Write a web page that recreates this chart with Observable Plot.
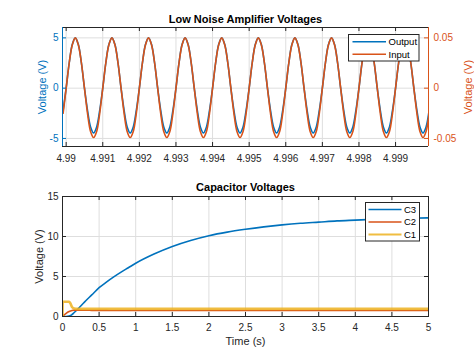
<!DOCTYPE html>
<html><head><meta charset="utf-8">
<script src="https://cdn.jsdelivr.net/npm/d3@7"></script>
<script src="https://cdn.jsdelivr.net/npm/@observablehq/plot@0.6"></script>
<style>
html,body{margin:0;padding:0;background:#fff;}
#chart{width:474px;height:355px;position:relative;overflow:hidden;background:#fff;}
#chart svg{display:block;}
</style></head><body><div id="chart"></div>
<script>
// ---------- Data: Low Noise Amplifier (samples every 1/12 ms) ----------
const lnaStart = 4.98991667;
const lnaStep = 1 / 12000;
const lnaOutput = [
  -2.2, 0, 2.5, 4.33, 5, 4.33, 2.5, 0, -2.2, -3.85, -4.45, -3.85,
  -2.2, 0, 2.5, 4.33, 5, 4.33, 2.5, 0, -2.2, -3.85, -4.45, -3.85,
  -2.2, 0, 2.5, 4.33, 5, 4.33, 2.5, 0, -2.2, -3.85, -4.45, -3.85,
  -2.2, 0, 2.5, 4.33, 5, 4.33, 2.5, 0, -2.2, -3.85, -4.45, -3.85,
  -2.2, 0, 2.5, 4.33, 5, 4.33, 2.5, 0, -2.2, -3.85, -4.45, -3.85,
  -2.2, 0, 2.5, 4.33, 5, 4.33, 2.5, 0, -2.2, -3.85, -4.45, -3.85,
  -2.2, 0, 2.5, 4.33, 5, 4.33, 2.5, 0, -2.2, -3.85, -4.45, -3.85,
  -2.2, 0, 2.5, 4.33, 5, 4.33, 2.5, 0, -2.2, -3.85, -4.45, -3.85,
  -2.2, 0, 2.5, 4.33, 5, 4.33, 2.5, 0, -2.2, -3.85, -4.45, -3.85,
  -2.2, 0, 2.5, 4.33, 5, 4.33, 2.5, 0, -2.2, -3.85, -4.45, -3.85,
  -2.2
];
const lnaInput = [
  -0.025, 0, 0.025, 0.043, 0.05, 0.043, 0.025, 0, -0.025, -0.043, -0.049, -0.043,
  -0.025, 0, 0.025, 0.043, 0.05, 0.043, 0.025, 0, -0.025, -0.043, -0.049, -0.043,
  -0.025, 0, 0.025, 0.043, 0.05, 0.043, 0.025, 0, -0.025, -0.043, -0.049, -0.043,
  -0.025, 0, 0.025, 0.043, 0.05, 0.043, 0.025, 0, -0.025, -0.043, -0.049, -0.043,
  -0.025, 0, 0.025, 0.043, 0.05, 0.043, 0.025, 0, -0.025, -0.043, -0.049, -0.043,
  -0.025, 0, 0.025, 0.043, 0.05, 0.043, 0.025, 0, -0.025, -0.043, -0.049, -0.043,
  -0.025, 0, 0.025, 0.043, 0.05, 0.043, 0.025, 0, -0.025, -0.043, -0.049, -0.043,
  -0.025, 0, 0.025, 0.043, 0.05, 0.043, 0.025, 0, -0.025, -0.043, -0.049, -0.043,
  -0.025, 0, 0.025, 0.043, 0.05, 0.043, 0.025, 0, -0.025, -0.043, -0.049, -0.043,
  -0.025, 0, 0.025, 0.043, 0.05, 0.043, 0.025, 0, -0.025, -0.043, -0.049, -0.043,
  -0.025
];
const lnaXDomain = [4.9899, 4.9999];
const lnaYDomain = [-5.8, 6.03];
const lnaXTicks = [4.99, 4.991, 4.992, 4.993, 4.994, 4.995, 4.996, 4.997, 4.998, 4.999];
const lnaXTickLabels = ["4.99", "4.991", "4.992", "4.993", "4.994", "4.995", "4.996", "4.997", "4.998", "4.999"];
const lnaLeftTicks = [-5, 0, 5];
const lnaLeftTickLabels = ["-5", "0", "5"];
const lnaRightTickLabels = ["-0.05", "0", "0.05"];
const lnaRightFactor = 100; // right axis value * 100 = left axis value
const lnaSeries = ["Output", "Input"];

// ---------- Data: Capacitor voltages ----------
const capTime = [0, 0.002, 0.05, 0.09, 0.11, 0.13, 0.16, 0.2, 0.3, 0.4, 0.5, 0.6, 0.7, 0.8, 0.9, 1.0,
  1.25, 1.5, 1.75, 2.0, 2.25, 2.5, 2.75, 3.0, 3.25, 3.5, 3.75, 4.0, 4.25, 4.5, 4.75, 5.0];
const capC3 = [0, 0, 0, 0.05, 0.12, 0.25, 0.5, 0.85, 1.8, 2.7, 3.6, 4.3, 4.95, 5.55, 6.1, 6.65,
  7.8, 8.75, 9.5, 10.1, 10.55, 10.9, 11.2, 11.45, 11.65, 11.8, 11.95, 12.05, 12.15, 12.22, 12.28, 12.33];
const capC2 = [0, 0.02, 0.4, 0.62, 0.7, 0.76, 0.8, 0.8, 0.78, 0.77, 0.76, 0.76, 0.75, 0.75, 0.75, 0.75,
  0.75, 0.75, 0.75, 0.75, 0.75, 0.75, 0.75, 0.75, 0.75, 0.75, 0.75, 0.75, 0.75, 0.75, 0.75, 0.75];
const capC1 = [0, 1.85, 1.85, 1.85, 1.6, 1.2, 1.0, 0.95, 0.95, 0.95, 0.95, 0.95, 0.95, 0.95, 0.95, 0.95,
  0.95, 0.95, 0.95, 0.95, 0.95, 0.95, 0.95, 0.95, 0.95, 0.95, 0.95, 0.95, 0.95, 0.95, 0.95, 0.95];
const capXTicks = [0, 0.5, 1, 1.5, 2, 2.5, 3, 3.5, 4, 4.5, 5];
const capXTickLabels = ["0", "0.5", "1", "1.5", "2", "2.5", "3", "3.5", "4", "4.5", "5"];
const capYTicks = [0, 5, 10, 15];
const capYTickLabels = ["0", "5", "10", "15"];
const capSeries = ["C3", "C2", "C1"];

// ---------- Style ----------
const BLUE = "#0072BD", ORANGE = "#D95319", YELLOW = "#EDB120", AX = "#262626", GRID = "#dedede";
const FONT = "'Liberation Sans', Arial, Helvetica, sans-serif";

const lnaData = lnaOutput.map((v, i) => ({t: lnaStart + i * lnaStep, out: v, inp: lnaInput[i]}));
const capData = capTime.map((t, i) => ({t, c3: capC3[i], c2: capC2[i], c1: capC1[i]}));

// ---------- Top plot ----------
const W = 474;
const topM = {h: 172, ml: 62, mr: 46, mt: 27, mb: 26};
const topFW = W - topM.ml - topM.mr, topFH = topM.h - topM.mt - topM.mb;
const fmtIdx = (ticks, labels) => (d) => labels[ticks.indexOf(d)];
const centered = {textAnchor: "middle", lineAnchor: "middle"};

const topPlot = Plot.plot({
  width: W, height: topM.h,
  marginLeft: topM.ml, marginRight: topM.mr, marginTop: topM.mt, marginBottom: topM.mb,
  x: {domain: lnaXDomain},
  y: {domain: lnaYDomain},
  style: {fontFamily: FONT, fontSize: "10px", color: AX, background: "white", overflow: "visible"},
  marks: [
    Plot.gridX(lnaXTicks, {stroke: GRID, strokeOpacity: 1}),
    Plot.gridY(lnaLeftTicks, {stroke: GRID, strokeOpacity: 1}),
    Plot.line(lnaData, {x: "t", y: "out", stroke: BLUE, strokeWidth: 1.6, curve: "catmull-rom", clip: true}),
    Plot.line(lnaData, {x: "t", y: (d) => d.inp * lnaRightFactor, stroke: ORANGE, strokeWidth: 1.6, curve: "catmull-rom", clip: true}),
    // inward ticks
    Plot.gridX(lnaXTicks, {stroke: AX, strokeOpacity: 1, insetBottom: topFH - 4}),
    Plot.gridX(lnaXTicks, {stroke: AX, strokeOpacity: 1, insetTop: topFH - 4}),
    Plot.gridY(lnaLeftTicks, {stroke: BLUE, strokeOpacity: 1, insetRight: topFW - 4}),
    Plot.gridY(lnaLeftTicks, {stroke: ORANGE, strokeOpacity: 1, insetLeft: topFW - 4}),
    // spines
    Plot.ruleY([lnaYDomain[0], lnaYDomain[1]], {stroke: AX}),
    Plot.ruleX([lnaXDomain[0]], {stroke: BLUE}),
    Plot.ruleX([lnaXDomain[1]], {stroke: ORANGE}),
    Plot.axisX(lnaXTicks, {tickSize: 0, tickPadding: 8, tickFormat: fmtIdx(lnaXTicks, lnaXTickLabels), label: null, fill: AX, fontSize: 10}),
    Plot.axisY(lnaLeftTicks, {anchor: "left", tickSize: 0, tickPadding: 4, tickFormat: fmtIdx(lnaLeftTicks, lnaLeftTickLabels), label: null, fill: BLUE, fontSize: 10}),
    Plot.axisY(lnaLeftTicks, {anchor: "right", tickSize: 0, tickPadding: 5, tickFormat: (d) => lnaRightTickLabels[lnaLeftTicks.indexOf(d)], label: null, fill: ORANGE, fontSize: 10}),
    Plot.text(["Voltage (V)"], {frameAnchor: "left", rotate: -90, dx: -20, fill: BLUE, fontSize: 11, ...centered}),
    Plot.text(["Voltage (V)"], {frameAnchor: "right", rotate: -90, dx: 40, fill: ORANGE, fontSize: 11, ...centered}),
    Plot.text(["Low Noise Amplifier Voltages"], {frameAnchor: "top", dy: -8, fill: "#000", fontSize: 11, fontWeight: "bold", ...centered})
  ]
});

// ---------- Bottom plot ----------
const botM = {h: 183, ml: 62, mr: 46, mt: 24, mb: 39};
const botFW = W - botM.ml - botM.mr, botFH = botM.h - botM.mt - botM.mb;

const botPlot = Plot.plot({
  width: W, height: botM.h,
  marginLeft: botM.ml, marginRight: botM.mr, marginTop: botM.mt, marginBottom: botM.mb,
  x: {domain: [0, 5]},
  y: {domain: [0, 15]},
  style: {fontFamily: FONT, fontSize: "10px", color: AX, background: "white", overflow: "visible"},
  marks: [
    Plot.gridX(capXTicks, {stroke: GRID, strokeOpacity: 1}),
    Plot.gridY(capYTicks, {stroke: GRID, strokeOpacity: 1}),
    Plot.line(capData, {x: "t", y: "c3", stroke: BLUE, strokeWidth: 1.6, curve: "monotone-x", clip: true}),
    Plot.line(capData, {x: "t", y: "c2", stroke: ORANGE, strokeWidth: 1.6, curve: "monotone-x", clip: true}),
    Plot.line(capData, {x: "t", y: "c1", stroke: YELLOW, strokeWidth: 2.6, strokeOpacity: 0.85, curve: "monotone-x", clip: true}),
    Plot.gridX(capXTicks, {stroke: AX, strokeOpacity: 1, insetBottom: botFH - 4}),
    Plot.gridX(capXTicks, {stroke: AX, strokeOpacity: 1, insetTop: botFH - 4}),
    Plot.gridY(capYTicks, {stroke: AX, strokeOpacity: 1, insetRight: botFW - 4}),
    Plot.gridY(capYTicks, {stroke: AX, strokeOpacity: 1, insetLeft: botFW - 4}),
    Plot.frame({stroke: AX}),
    Plot.axisX(capXTicks, {tickSize: 0, tickPadding: 7, tickFormat: fmtIdx(capXTicks, capXTickLabels), label: null, fill: AX, fontSize: 10}),
    Plot.axisY(capYTicks, {anchor: "left", tickSize: 0, tickPadding: 4, tickFormat: fmtIdx(capYTicks, capYTickLabels), label: null, fill: AX, fontSize: 10}),
    Plot.text(["Voltage (V)"], {frameAnchor: "left", rotate: -90, dx: -23, fill: AX, fontSize: 11, ...centered}),
    Plot.text(["Time (s)"], {frameAnchor: "bottom", dy: 25, fill: AX, fontSize: 11, ...centered}),
    Plot.text(["Capacitor Voltages"], {frameAnchor: "top", dy: -9, fill: "#000", fontSize: 11, fontWeight: "bold", ...centered})
  ]
});

// ---------- Legends ----------
function addLegend(svg, box, rows) {
  const g = d3.select(svg).append("g").attr("font-family", FONT).attr("font-size", 9.5).attr("text-anchor", "start");
  g.append("rect").attr("x", box.x).attr("y", box.y).attr("width", box.w).attr("height", box.h)
    .attr("fill", "white").attr("stroke", AX).attr("stroke-width", 1);
  rows.forEach((r) => {
    g.append("line").attr("x1", box.lx1).attr("x2", box.lx2).attr("y1", r.y).attr("y2", r.y)
      .attr("stroke", r.color).attr("stroke-width", r.w || 1.6).attr("stroke-opacity", r.o || 1);
    g.append("text").attr("x", box.tx).attr("y", r.y).attr("dy", "0.35em").attr("text-anchor", "start")
      .attr("fill", "#000").text(r.label);
  });
}
addLegend(topPlot, {x: 348.5, y: 34.5, w: 70.5, h: 26.5, lx1: 352.5, lx2: 386, tx: 388.5}, [
  {label: lnaSeries[0], color: BLUE, y: 41.7},
  {label: lnaSeries[1], color: ORANGE, y: 54.3}
]);
addLegend(botPlot, {x: 365.5, y: 30.5, w: 54, h: 38.5, lx1: 368.5, lx2: 401.5, tx: 404}, [
  {label: capSeries[0], color: BLUE, y: 37.5},
  {label: capSeries[1], color: ORANGE, y: 50},
  {label: capSeries[2], color: YELLOW, y: 62.5, w: 2.2, o: 0.85}
]);

const chart = document.getElementById("chart");
chart.appendChild(topPlot);
chart.appendChild(botPlot);
</script></body></html>
